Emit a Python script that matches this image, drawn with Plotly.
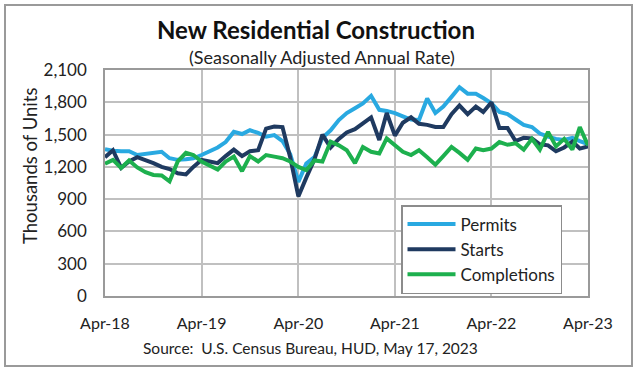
import plotly.graph_objects as go
import pandas as pd

months = pd.date_range("2018-04-01", "2023-04-01", freq="MS")

permits = [1365, 1350, 1345, 1345, 1310, 1320, 1335, 1340, 1280, 1265, 1270, 1280,
           1310, 1340, 1380, 1430, 1525, 1505, 1540, 1515, 1480, 1495, 1440, 1320,
           1060, 1230, 1290, 1470, 1540, 1635, 1700, 1745, 1790, 1860, 1730, 1720,
           1700, 1670, 1640, 1635, 1835, 1700, 1760, 1850, 1940, 1880, 1880, 1840,
           1790, 1710, 1690, 1640, 1590, 1570, 1510, 1480, 1460, 1450, 1470, 1440,
           1410]
starts = [1290, 1355, 1190, 1250, 1290, 1265, 1235, 1200, 1180, 1140, 1130, 1200,
          1264, 1250, 1235, 1300, 1360, 1300, 1345, 1355, 1555, 1575, 1570, 1290,
          925, 1100, 1270, 1500, 1380, 1460, 1520, 1550, 1600, 1660, 1450, 1700,
          1490, 1610, 1660, 1600, 1590, 1570, 1570, 1690, 1770, 1690, 1760, 1710,
          1800, 1560, 1560, 1440, 1470, 1465, 1410, 1400, 1345, 1380, 1435, 1370,
          1390]
completions = [1230, 1265, 1190, 1260, 1195, 1150, 1125, 1120, 1065, 1250, 1330, 1310,
               1250, 1210, 1175, 1250, 1295, 1160, 1300, 1250, 1310, 1295, 1280, 1250,
               1200, 1170, 1260, 1250, 1435, 1400, 1355, 1235, 1385, 1340, 1325, 1465,
               1400, 1340, 1310, 1355, 1290, 1220, 1300, 1385, 1330, 1265, 1370, 1355,
               1370, 1430, 1405, 1420, 1360, 1460, 1360, 1525, 1390, 1460, 1360, 1570,
               1400]

tick_dates = ["2018-04-01", "2019-04-01", "2020-04-01", "2021-04-01", "2022-04-01", "2023-04-01"]
tick_labels = ["Apr-18", "Apr-19", "Apr-20", "Apr-21", "Apr-22", "Apr-23"]
y_ticks = [0, 300, 600, 900, 1200, 1500, 1800, 2100]

FONT = "Lato, Carlito, 'Liberation Sans', sans-serif"

fig = go.Figure()
fig.add_trace(go.Scatter(x=months, y=permits, name="Permits", mode="lines",
                         line=dict(color="#29A9E1", width=4)))
fig.add_trace(go.Scatter(x=months, y=starts, name="Starts", mode="lines",
                         line=dict(color="#1F3A60", width=4)))
fig.add_trace(go.Scatter(x=months, y=completions, name="Completions", mode="lines",
                         line=dict(color="#1DB04E", width=4)))

W, H = 640, 378
L, R, T, B = 105, 588, 70, 296
pw, ph = R - L, B - T

def px(x):
    return (x - L) / pw

def py(y):
    return (B - y) / ph

fig.update_layout(
    width=W, height=H,
    margin=dict(l=L, r=W - R, t=T, b=H - B),
    paper_bgcolor="white", plot_bgcolor="white",
    font=dict(family=FONT, color="#222222", size=16),
    showlegend=True,
    legend=dict(x=px(401), y=py(205), xanchor="left", yanchor="top",
                bgcolor="white", bordercolor="#8c8c8c", borderwidth=1.5,
                font=dict(size=17, family=FONT, color="#222222"),
                tracegroupgap=0, itemwidth=48),
    xaxis=dict(range=[tick_dates[0], tick_dates[-1]], tickvals=tick_dates, ticktext=tick_labels,
               showgrid=True, gridcolor="#c0c0c0", gridwidth=1.5,
               showline=True, linecolor="#9a9a9a", linewidth=1.5, mirror=True,
               ticks="outside", ticklen=12, tickcolor="rgba(0,0,0,0)",
               tickfont=dict(size=16, family=FONT, color="#222222"), zeroline=False),
    yaxis=dict(range=[0, 2100], tickvals=y_ticks, tickformat=",",
               showgrid=True, gridcolor="#c0c0c0", gridwidth=1.5,
               showline=True, linecolor="#9a9a9a", linewidth=1.5, mirror=True,
               ticks="outside", ticklen=13, tickcolor="rgba(0,0,0,0)",
               tickfont=dict(size=17, family=FONT, color="#222222"), zeroline=False),
)

def note(text, x, y, size, color="#222222", angle=0):
    fig.add_annotation(text=text, x=px(x), y=py(y), xref="paper", yref="paper",
                       xanchor="center", yanchor="middle", showarrow=False,
                       textangle=angle, font=dict(size=size, family=FONT, color=color))

note("<b>New Residential Construction</b>", 316, 30, 24, "#111111")
note("(Seasonally Adjusted Annual Rate)", 322, 57, 18)
note("Thousands of Units", 30, 166, 18.5, angle=-90)
note("Source:  U.S. Census Bureau, HUD, May 17, 2023", 310, 348, 15.5)

fig.add_shape(type="rect", xref="paper", yref="paper",
              x0=px(5), x1=px(632), y0=py(366), y1=py(5),
              line=dict(color="#9a9a9a", width=2), layer="below")

fig.write_html("out.html", config={"displayModeBar": False},
               post_script="document.body.style.margin='0';")
